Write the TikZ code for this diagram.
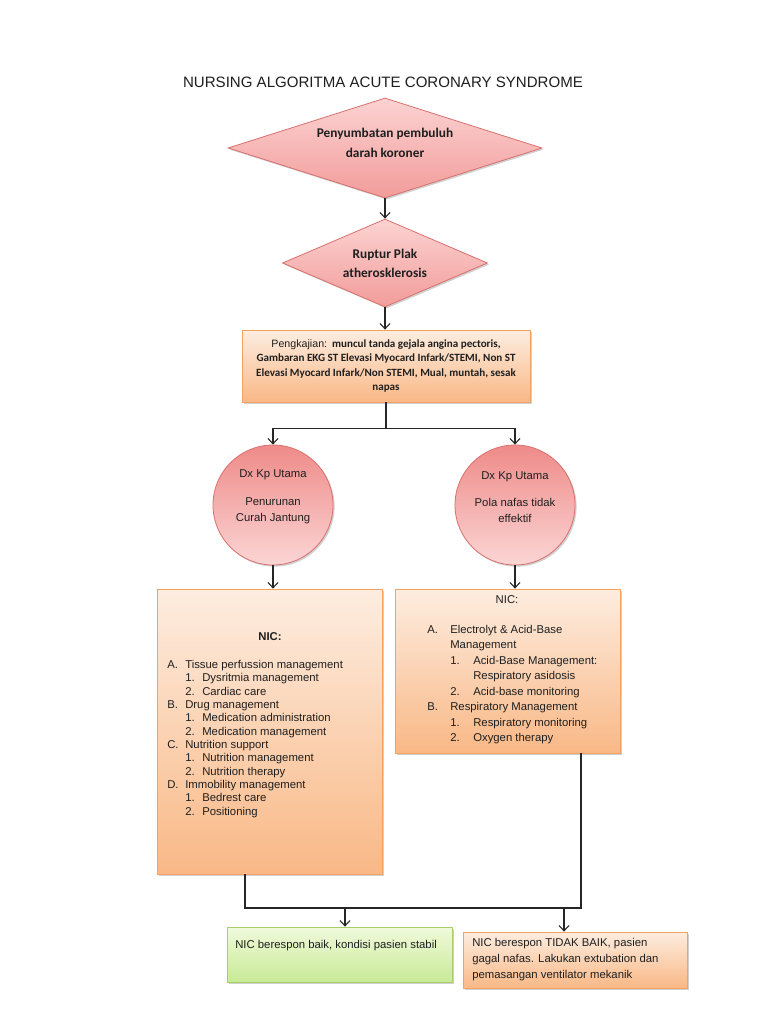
\documentclass[tikz,border=0pt]{standalone}
\usepackage{fontspec}
\setmainfont{Liberation Sans}
\newfontfamily\calibri{Carlito}
\usetikzlibrary{shapes.geometric,arrows.meta,shadows}

\definecolor{diamTop}{HTML}{FBD3D2}
\definecolor{diamBot}{HTML}{F29C9A}
\definecolor{pinkLine}{HTML}{D8716E}
\definecolor{circTop}{HTML}{EE8B89}
\definecolor{circBot}{HTML}{FBD5D4}
\definecolor{oraTop}{HTML}{FDEDE0}
\definecolor{oraBot}{HTML}{F9B886}
\definecolor{oraLine}{HTML}{F4A262}
\definecolor{grnTop}{HTML}{F0FADC}
\definecolor{grnBot}{HTML}{C8EA95}
\definecolor{grnLine}{HTML}{A9CD6B}

\newcommand{\itmA}[2]{\makebox[13.5pt][l]{#1}#2}
\newcommand{\itmB}[2]{\hspace*{13.5pt}\makebox[12.75pt][l]{#1}#2}
\newcommand{\itmC}[2]{\makebox[17.25pt][l]{#1}#2}
\newcommand{\itmD}[2]{\hspace*{17.25pt}\makebox[17.25pt][l]{#1}#2}

\tikzset{
  shadowed/.style={drop shadow={shadow xshift=1.2pt, shadow yshift=-1.2pt, opacity=0.3, fill=black!60}},
  diam/.style={diamond, draw=pinkLine, line width=0.6pt, top color=diamTop, bottom color=diamBot, align=center, shadowed, font=\calibri\bfseries\fontsize{10}{14.8}\selectfont},
  dxcirc/.style={circle, draw=pinkLine, line width=0.6pt, top color=circTop, bottom color=circBot, minimum size=90pt, shadowed},
  obox/.style={rectangle, draw=oraLine, line width=0.6pt, top color=oraTop, bottom color=oraBot, shadowed},
  gbox/.style={rectangle, draw=grnLine, line width=0.6pt, top color=grnTop, bottom color=grnBot, shadowed},
  dxtext/.style={align=center, font=\fontsize{8.5}{11.8}\selectfont},
  listtxt/.style={align=left, anchor=north west},
  line/.style={draw=black!85, line width=0.8pt},
  conn/.style={line, -{Straight Barb[length=4pt,width=7.5pt]}}
}

\begin{document}
\begin{tikzpicture}[x=0.75pt, y=-0.75pt, every node/.style={inner sep=0pt, text=black!88}, font=\fontsize{8.5}{10}\selectfont]
	\useasboundingbox [fill=white] (0,0) rectangle (768,1024);

	% Title
	\node [font=\fontsize{11.3}{13}\selectfont] (ttl) at (383,82) {NURSING ALGORITMA ACUTE CORONARY SYNDROME};

	% Diamonds
	\node [diam, aspect=3.14, text depth=8pt, minimum width=235.5pt, minimum height=75pt] (sumbat) at (385,148) {Penyumbatan pembuluh\\darah koroner};
	\node [diam, aspect=2.33, minimum width=153.75pt, minimum height=66pt, font=\calibri\bfseries\fontsize{10}{14.3}\selectfont] (ruptur) at (385,263) {Ruptur Plak\\atherosklerosis};

	% Pengkajian
	\node [obox, minimum width=216pt, minimum height=54pt, align=center, font=\calibri\bfseries\fontsize{8.3}{10.7}\selectfont] (kaji) at (386,366)
		{{\normalfont\fontsize{8}{10.7}\selectfont Pengkajian:}\ \ muncul tanda gejala angina pectoris,\\
		 Gambaran EKG ST Elevasi Myocard Infark/STEMI, Non ST\\
		 Elevasi Myocard Infark/Non STEMI, Mual, muntah, sesak\\
		 napas};

	% Diagnosa
	\node [dxcirc] (dxA) at (273,505) {};
	\node [dxtext] (dxAtxt) at (273,497) {Dx Kp Utama\\[9pt]Penurunan\\Curah Jantung};
	\node [dxcirc] (dxB) at (515,505) {};
	\node [dxtext] (dxBtxt) at (515,497) {Dx Kp Utama\\[9pt]Pola nafas tidak\\effektif};

	% NIC
	\node [obox, minimum width=168.75pt, minimum height=213.75pt] (nicA) at (269.5,731.5) {};
	\node [font=\bfseries\fontsize{8.5}{10}\selectfont] (nicAhd) at (270,637) {NIC:};
	\node [listtxt] (nicAlst) at (167,660) {%
		\itmA{A.}{Tissue perfussion management}\\
		\itmB{1.}{Dysritmia management}\\
		\itmB{2.}{Cardiac care}\\
		\itmA{B.}{Drug management}\\
		\itmB{1.}{Medication administration}\\
		\itmB{2.}{Medication management}\\
		\itmA{C.}{Nutrition support}\\
		\itmB{1.}{Nutrition management}\\
		\itmB{2.}{Nutrition therapy}\\
		\itmA{D.}{Immobility management}\\
		\itmB{1.}{Bedrest care}\\
		\itmB{2.}{Positioning}};

	\node [obox, minimum width=168.75pt, minimum height=123pt] (nicB) at (507.5,671) {};
	\node (nicBhd) at (507,600) {NIC:};
	\node [listtxt, font=\fontsize{8.5}{11.6}\selectfont] (nicBlst) at (427,625) {%
		\itmC{A.}{Electrolyt \& Acid-Base}\\
		\hspace*{17.25pt}Management\\
		\itmD{1.}{Acid-Base Management:}\\
		\hspace*{34.5pt}Respiratory asidosis\\
		\itmD{2.}{Acid-base monitoring}\\
		\itmC{B.}{Respiratory Management}\\
		\itmD{1.}{Respiratory monitoring}\\
		\itmD{2.}{Oxygen therapy}};

	% Evaluasi
	\node [gbox, minimum width=168.75pt, minimum height=41.25pt] (baik) at (339.5,954.5) {};
	\node [anchor=west] (baiktxt) at (235,946) {NIC berespon baik, kondisi pasien stabil};
	\node [obox, minimum width=168pt, minimum height=42pt] (gagal) at (575,960) {};
	\node [anchor=west, align=left, font=\fontsize{8.5}{12}\selectfont] (gagaltxt) at (472,960)
		{NIC berespon TIDAK BAIK, pasien\\gagal nafas. Lakukan extubation dan\\pemasangan ventilator mekanik};

	% Connectors
	\draw [conn] (sumbat.south) -- (ruptur.north);
	\draw [conn] (ruptur.south) -- (ruptur.south |- kaji.north);
	\draw [line] (kaji.south) -- ++(0,26) coordinate (split);
	\draw [conn] (split) -| (dxA.north);
	\draw [conn] (split) -| (dxB.north);
	\draw [conn] (dxA.south) -- (dxA.south |- nicA.north);
	\draw [conn] (dxB.south) -- (dxB.south |- nicB.north);

	\coordinate (joinL) at (245,908);
	\coordinate (joinR) at (581,908);
	\coordinate (toBaik) at (345,908);
	\coordinate (toGagal) at (564,908);
	\draw [line] (joinL |- nicA.south) -- (joinL) -- (joinR) -- (joinR |- nicB.south);
	\draw [conn] (toBaik) -- (toBaik |- baik.north);
	\draw [conn] (toGagal) -- (toGagal |- gagal.north);

\end{tikzpicture}
\end{document}
